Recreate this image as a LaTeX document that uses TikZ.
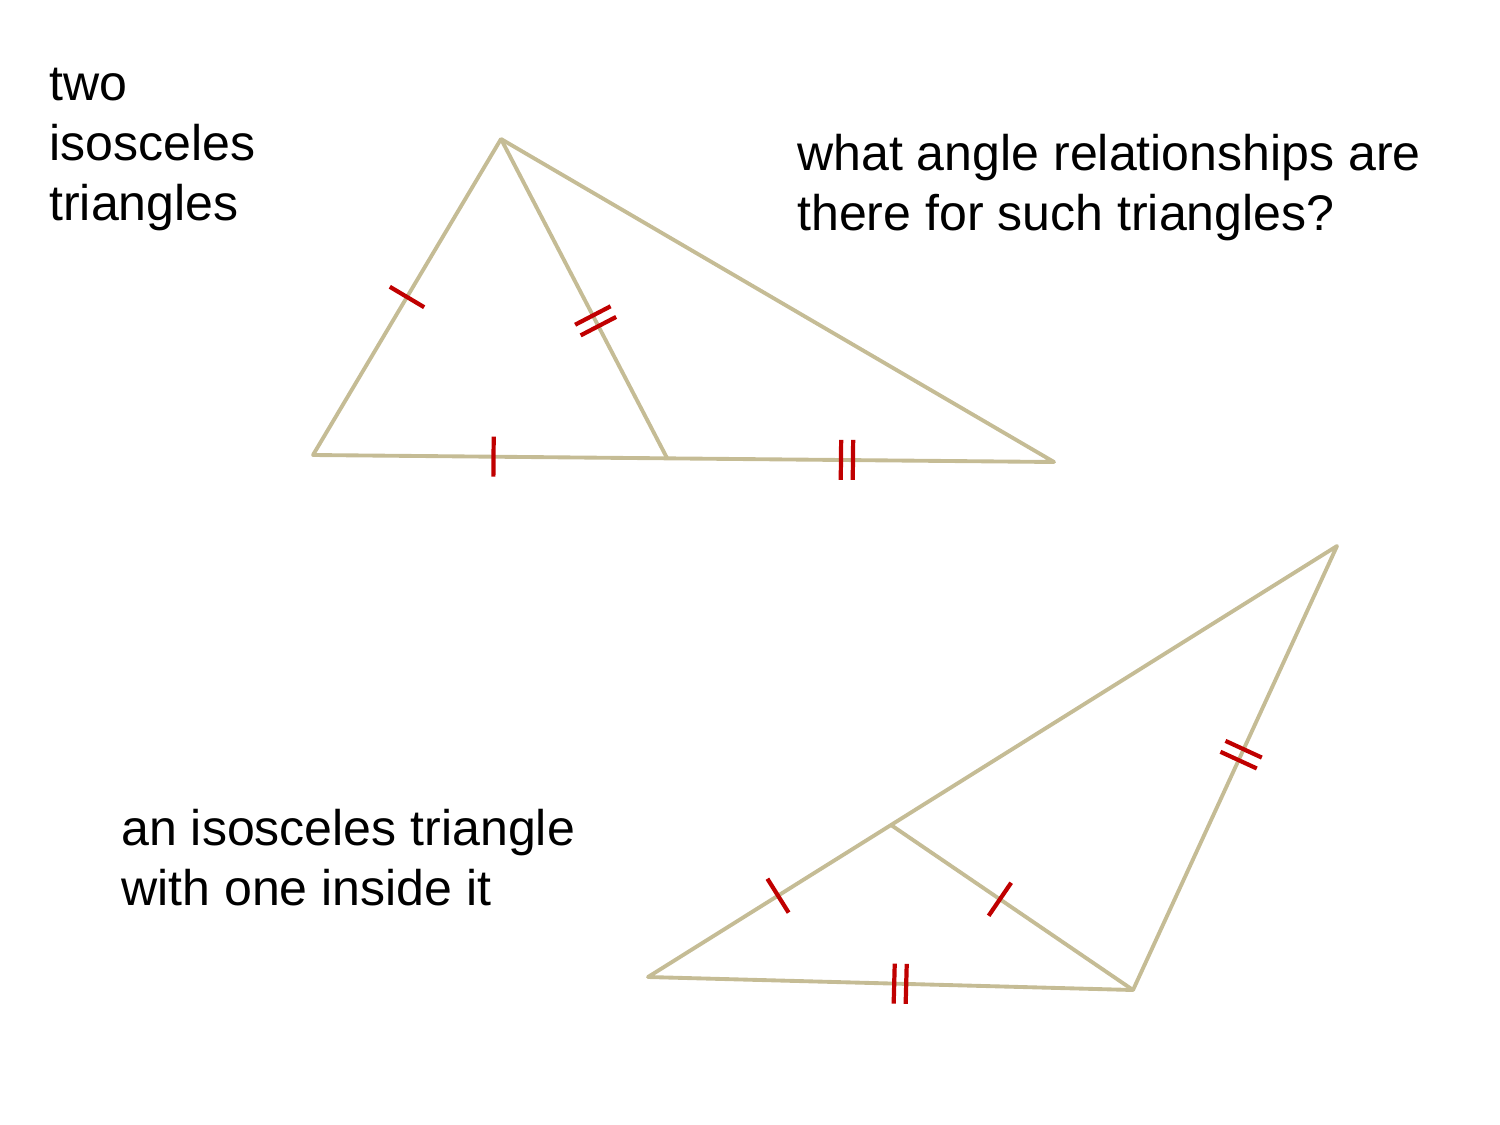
\documentclass[tikz,border=0pt]{standalone}
\usepackage{fontspec}
\setmainfont{Liberation Sans}
\usetikzlibrary{calc}
\definecolor{side}{RGB}{197,188,149}
\definecolor{tk}{RGB}{192,0,0}
\tikzset{sideline/.style={draw=side,line width=2.2pt},
 tickline/.style={draw=tk,line width=2.4pt},
 lbl/.style={anchor=north west,align=left,inner sep=0pt,font=\fontsize{28.5}{34}\selectfont}}
\newcommand{\onetick}[3]{% a b ratio
 \coordinate (tm) at ($(#1)!#3!(#2)$);
 \draw[tickline] ($(tm)!0.4cm!90:(#2)$) -- ($(tm)!0.4cm!-90:(#2)$);}
\newcommand{\twotick}[3]{%
 \coordinate (tma) at ($(#1)!#3!(#2)$);
 \coordinate (tm) at ($(tma)!0.12cm!(#2)$);
 \draw[tickline] ($(tm)!0.4cm!90:(#2)$) -- ($(tm)!0.4cm!-90:(#2)$);
 \coordinate (tm) at ($(tma)!-0.12cm!(#2)$);
 \draw[tickline] ($(tm)!0.4cm!90:(#2)$) -- ($(tm)!0.4cm!-90:(#2)$);}
\begin{document}
\begin{tikzpicture}[x=0.02cm,y=-0.02cm]
\useasboundingbox (0,0) rectangle (1500,1125);
\coordinate (A) at (313,455); \coordinate (B) at (501,139);
\coordinate (M) at (667,458); \coordinate (C) at (1054,462);
\coordinate (P) at (648,977); \coordinate (Q) at (891,825);
\coordinate (R) at (1133,990); \coordinate (S) at (1337,546);
\draw[sideline,line join=round] (A) -- (B) -- (C) -- cycle;
\draw[sideline] (B) -- (M);
\draw[sideline,line join=round] (P) -- (S) -- (R) -- cycle;
\draw[sideline] (Q) -- (R);
\onetick{A}{B}{0.5}
\twotick{B}{M}{0.57}
\onetick{A}{M}{0.51}
\twotick{M}{C}{0.465}
\onetick{P}{Q}{0.535}
\onetick{Q}{R}{0.45}
\twotick{P}{R}{0.52}
\twotick{R}{S}{0.53}
\node[lbl] (t1) at (49,68) {two\\isosceles\\triangles};
\node[lbl] (t2) at (797,134) {what angle relationships are\\there for such triangles?};
\node[lbl] (t3) at (121,809) {an isosceles triangle\\with one inside it};
\end{tikzpicture}
\end{document}
